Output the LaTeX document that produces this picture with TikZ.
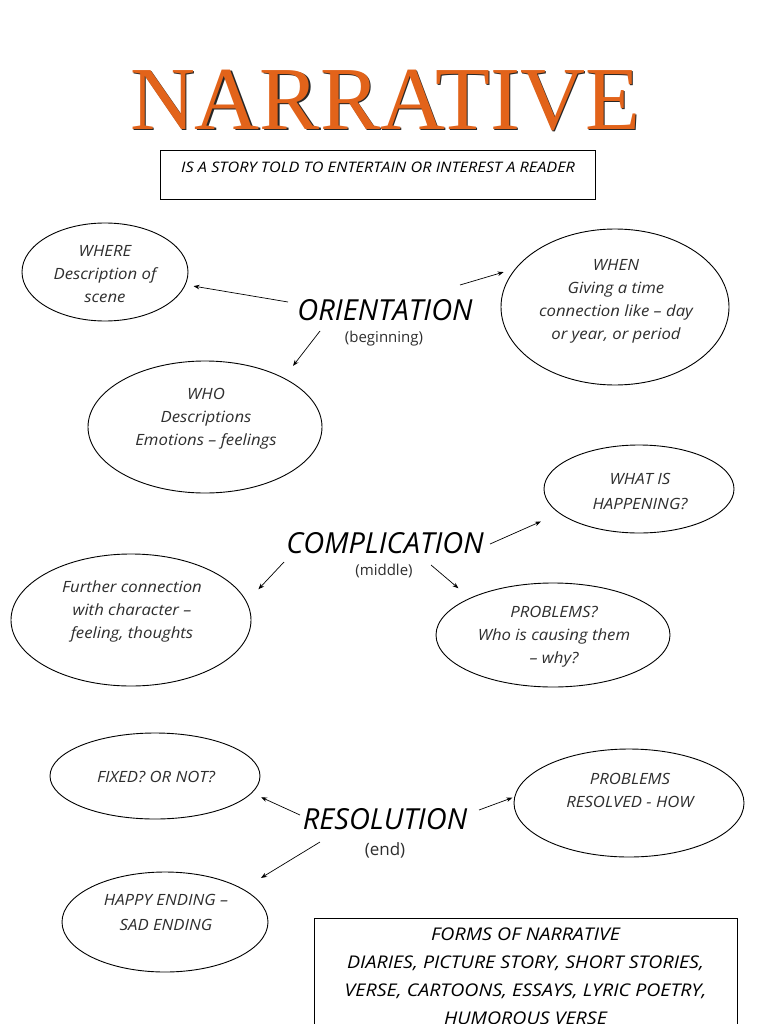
\documentclass[tikz,border=0pt]{standalone}
\usepackage{fontspec}
\setmainfont{Open Sans}
\newfontfamily\comicfont[FakeStretch=1.08,Ligatures=TeX]{Open Sans}
\newfontfamily\widefont[FakeStretch=1.12,Ligatures=TeX]{Open Sans}
\newfontfamily\titlefont{Liberation Serif}
\usetikzlibrary{arrows.meta,shapes.geometric}
\definecolor{titleorange}{HTML}{E2631A}
\definecolor{txtgrey}{HTML}{2E2E2E}
\tikzset{
  bubble/.style={draw, ellipse, line width=0.9pt, inner sep=0pt},
  bubtext/.style={align=center, text=txtgrey, font=\comicfont\fontsize{15.5}{23}\selectfont\itshape},
  heading/.style={font=\fontsize{29}{32}\selectfont\itshape, text=black, inner sep=0pt},
  sub/.style={font=\fontsize{15}{18}\selectfont, text=txtgrey, inner sep=0pt},
  arr/.style={-{Stealth[length=6pt,width=4.5pt]}, line width=0.7pt},
  frame/.style={draw, line width=0.9pt},
}
\begin{document}
\begin{tikzpicture}[x=1pt,y=-1pt]
\useasboundingbox (0,0) rectangle (768,1024);
\clip (0,0) rectangle (768,1024);
\fill[white] (0,0) rectangle (768,1024);
% title
\node[text=black!85, font=\titlefont\fontsize{90}{96}\selectfont] (titleshadow) at (386.8,101.8) {NARRATIVE};
\node[text=titleorange, font=\titlefont\fontsize{90}{96}\selectfont] (title) at (385,100) {NARRATIVE};
% definition box
\node[frame, minimum width=435pt, minimum height=49pt, inner sep=0pt] (defbox) at (377.5,174.5) {};
\node[font=\widefont\fontsize{14.5}{16}\selectfont\itshape, text=black] (deftext) at (378,167) {IS A STORY TOLD TO ENTERTAIN OR INTEREST A READER};
% ORIENTATION
\node[heading] (orient) at (385,310) {ORIENTATION};
\node[sub] (orientsub) at (384,339) {(beginning)};
\node[bubble, minimum width=166pt, minimum height=98pt] (where) at (105,272) {};
\node[bubtext] (wheret) at (105,274) {WHERE\\Description of\\scene};
\node[bubble, minimum width=228pt, minimum height=156pt] (when) at (615,307) {};
\node[bubtext] (whent) at (616,301) {WHEN\\Giving a time\\connection like – day\\or year, or period};
\node[bubble, minimum width=234pt, minimum height=132pt] (who) at (205,427) {};
\node[bubtext] (whot) at (206,419) {WHO\\Descriptions\\Emotions – feelings};
\coordinate (o1) at (288,302);
\coordinate (o2) at (460,285);
\coordinate (o3) at (320,331);
\draw[arr, shorten >=8pt] (o1) -- (where.-9);
\draw[arr, shorten >=12pt] (o2) -- (when.159);
\draw[arr, shorten >=15pt] (o3) -- (who.32);
% COMPLICATION
\node[heading] (comp) at (385,543) {COMPLICATION};
\node[sub] (compsub) at (384,571) {(middle)};
\node[bubble, minimum width=190pt, minimum height=88pt] (what) at (639,489) {};
\node[bubtext, font=\comicfont\fontsize{15.5}{25}\selectfont\itshape] (whatt) at (640,491) {WHAT IS\\HAPPENING?};
\node[bubble, minimum width=240pt, minimum height=132pt] (further) at (131,620) {};
\node[bubtext] (furthert) at (132,611) {Further connection\\with character –\\feeling, thoughts};
\node[bubble, minimum width=234pt, minimum height=104pt] (problems) at (553,635) {};
\node[bubtext] (problemst) at (554,637) {PROBLEMS?\\Who is causing them\\– why?};
\coordinate (c1) at (490,544);
\coordinate (c2) at (284,562);
\coordinate (c3) at (431,565);
\draw[arr, shorten >=20pt] (c1) -- (what.197);
\draw[arr, shorten >=17pt] (c2) -- (further.9);
\draw[arr, shorten >=15pt] (c3) -- (problems.156);
% RESOLUTION
\node[heading] (res) at (385,819) {RESOLUTION};
\node[sub, font=\fontsize{17}{20}\selectfont] (ressub) at (385,850) {(end)};
\node[bubble, minimum width=210pt, minimum height=86pt] (fixed) at (155,776) {};
\node[bubtext] (fixedt) at (156,777) {FIXED? OR NOT?};
\node[bubble, minimum width=230pt, minimum height=108pt] (resolved) at (629,803) {};
\node[bubtext] (resolvedt) at (630,790) {PROBLEMS\\RESOLVED - HOW};
\node[bubble, minimum width=206pt, minimum height=100pt] (happy) at (165,922) {};
\node[bubtext, font=\comicfont\fontsize{15.5}{25}\selectfont\itshape] (happyt) at (166,912) {HAPPY ENDING –\\SAD ENDING};
\coordinate (r1) at (300,815);
\coordinate (r2) at (479,810);
\coordinate (r3) at (320,842);
\draw[arr, shorten >=10pt] (r1) -- (fixed.-10);
\draw[arr, shorten >=2pt] (r2) -- (resolved.177);
\draw[arr, shorten >=21pt] (r3) -- (happy.23);
% forms box
\draw[frame] (314,1030) |- (737,918) -- (737,1030);
\node[font=\widefont\fontsize{17.5}{28}\selectfont\itshape, text=black, align=center, anchor=north] (forms) at (525.5,924) {FORMS OF NARRATIVE\\DIARIES, PICTURE STORY, SHORT STORIES,\\VERSE, CARTOONS, ESSAYS, LYRIC POETRY,\\HUMOROUS VERSE};
\end{tikzpicture}
\end{document}
